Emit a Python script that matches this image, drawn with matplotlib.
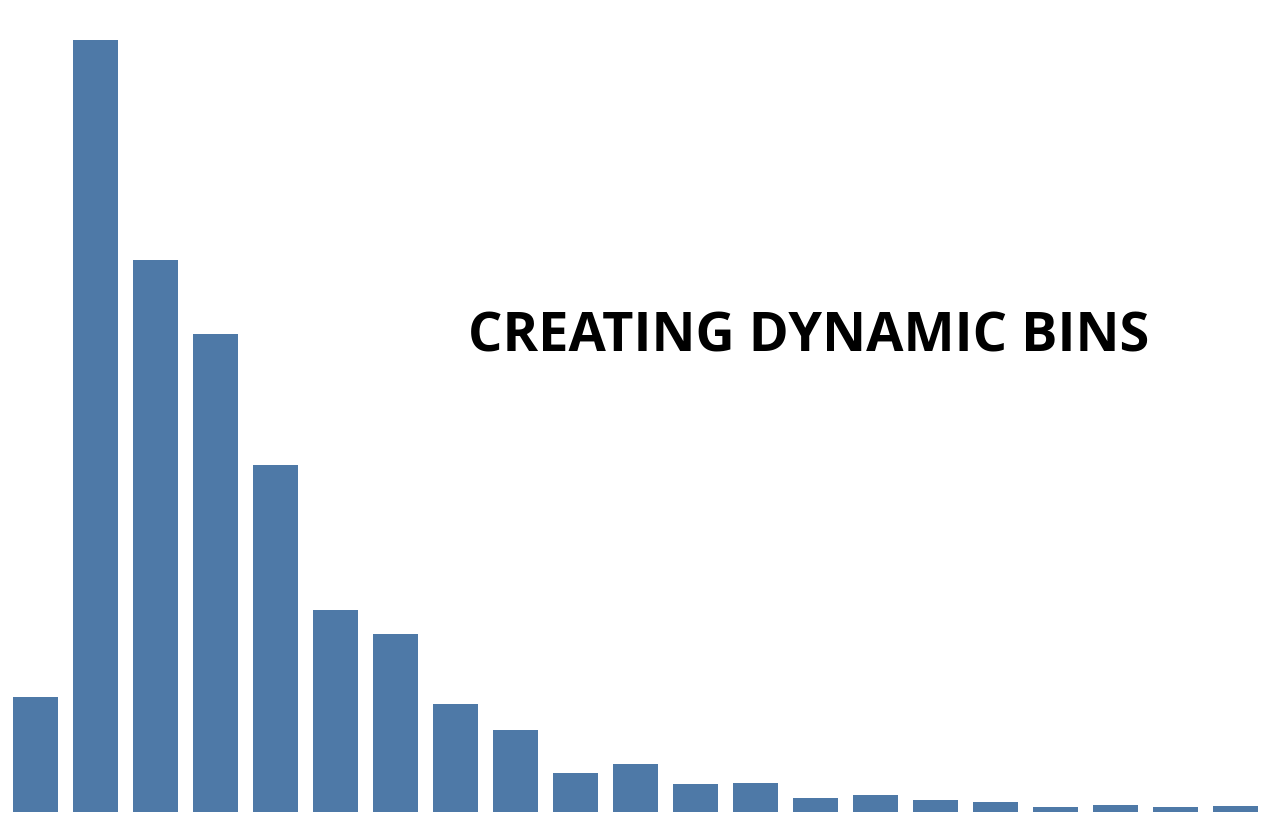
import matplotlib
matplotlib.use("Agg")
import matplotlib.pyplot as plt

bins = list(range(1, 22))
counts = [115, 772, 552, 478, 347, 202, 178, 108, 82, 39, 48, 28, 29, 14, 17, 12, 10, 5, 7, 5, 6]
title = "CREATING DYNAMIC BINS"

W, H = 1271, 819
fig = plt.figure(figsize=(W / 100, H / 100), dpi=100)
ax = fig.add_axes([0, 7 / H, 1, 812 / H])
ax.bar(range(len(bins)), counts, width=0.75, color="#4E79A7")
ax.set_xlim(-35.5 / 60, (W - 35.5) / 60)
ax.set_ylim(0, 812)
ax.axis("off")

fig.text(809 / W, 1 - 337 / H, title, ha="center", va="center",
         fontsize=39, fontweight="bold", family="Open Sans", color="black")
fig.savefig("out.png", dpi=100)
